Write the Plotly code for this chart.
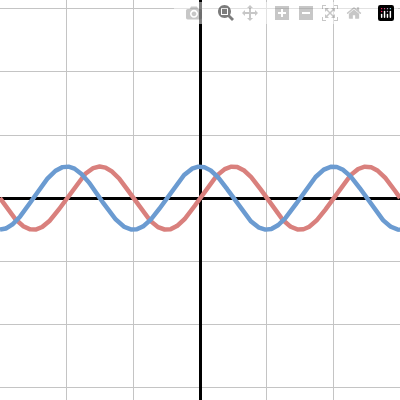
import numpy as np
import plotly.graph_objects as go

# curves plotted: y = sin(x) (red) and y = cos(x) (blue)
x_min, x_max = -3 * np.pi, 3 * np.pi
y_min, y_max = -6.4, 6.28
x = np.linspace(x_min, x_max, 1200)
sin_y = np.sin(x)
cos_y = np.cos(x)

fig = go.Figure()
fig.add_trace(go.Scatter(x=x, y=sin_y, mode='lines', line=dict(color='#d9807d', width=4.5)))
fig.add_trace(go.Scatter(x=x, y=cos_y, mode='lines', line=dict(color='#6b9bd1', width=4.5)))

fig.update_layout(
    width=400, height=400,
    margin=dict(l=0, r=0, t=0, b=0),
    plot_bgcolor='white', paper_bgcolor='white',
    showlegend=False,
    xaxis=dict(range=[x_min, x_max], dtick=np.pi, tick0=0, showticklabels=False,
               gridcolor='#c4c4c4', gridwidth=1, zeroline=True, zerolinecolor='black',
               zerolinewidth=2.5, ticks=''),
    yaxis=dict(range=[y_min, y_max], dtick=2, tick0=0, showticklabels=False,
               gridcolor='#c4c4c4', gridwidth=1, zeroline=True, zerolinecolor='black',
               zerolinewidth=2.5, ticks=''),
)

fig.write_html("out.html", post_script="document.body.style.margin='0';")
